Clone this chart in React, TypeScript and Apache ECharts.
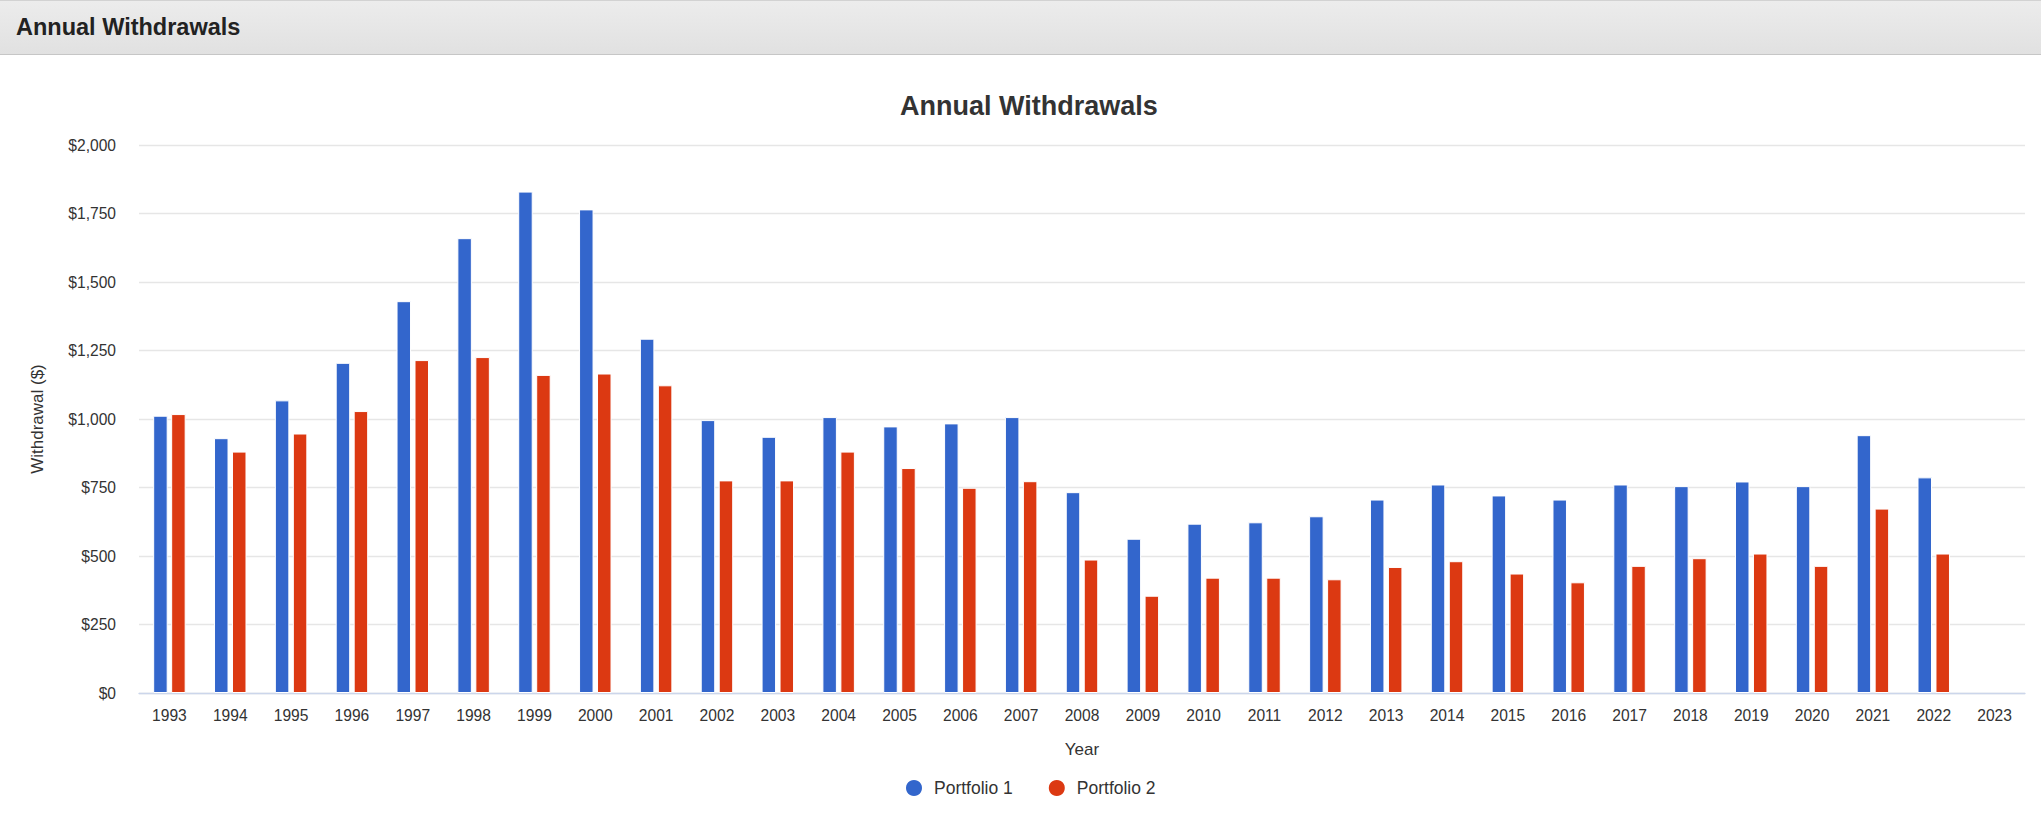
import React, { useEffect, useRef } from "react";
import * as echarts from "echarts";

const years = [
  "1993", "1994", "1995", "1996", "1997", "1998", "1999", "2000", "2001", "2002",
  "2003", "2004", "2005", "2006", "2007", "2008", "2009", "2010", "2011", "2012",
  "2013", "2014", "2015", "2016", "2017", "2018", "2019", "2020", "2021", "2022", "2023",
];

const portfolio1 = [
  1012, 930, 1068, 1205, 1430, 1660, 1830, 1765, 1293, 996,
  935, 1007, 973, 984, 1007, 733, 563, 618, 623, 645,
  706, 761, 721, 706, 761, 755, 772, 755, 941, 787, null,
];

const portfolio2 = [
  1018, 881, 947, 1029, 1215, 1226, 1161, 1166, 1123, 776,
  776, 881, 821, 749, 773, 487, 355, 421, 421, 415,
  460, 481, 436, 404, 464, 492, 509, 464, 673, 509, null,
];

const FONT = "'Liberation Sans', Arial, sans-serif";

const App: React.FC = () => {
  const chartRef = useRef<HTMLDivElement | null>(null);

  useEffect(() => {
    if (!chartRef.current) return;
    const chart = echarts.init(chartRef.current, undefined, { renderer: "svg" });

    const option = {
      animation: false,
      textStyle: { fontFamily: FONT },
      title: {
        text: "Annual Withdrawals",
        left: 900,
        top: 92,
        padding: 0,
        textStyle: {
          fontFamily: FONT,
          fontSize: 27,
          fontWeight: "bold",
          color: "#333333",
        },
      },
      legend: {
        data: ["Portfolio 1", "Portfolio 2"],
        left: 904,
        top: 778,
        padding: 0,
        icon: "circle",
        itemWidth: 18,
        itemHeight: 18,
        itemGap: 34,
        textStyle: {
          fontFamily: FONT,
          fontSize: 17.5,
          color: "#333333",
          padding: [0, 0, 0, 6],
        },
      },
      grid: {
        left: 139,
        right: 16,
        top: 145,
        bottom: 133,
        containLabel: false,
      },
      xAxis: {
        type: "category",
        data: years,
        name: "Year",
        nameLocation: "middle",
        nameGap: 48,
        nameTextStyle: { fontFamily: FONT, fontSize: 17, color: "#333333" },
        axisLine: { lineStyle: { color: "#ccd6eb", width: 1.3 } },
        axisTick: { show: false },
        axisLabel: {
          interval: 0,
          margin: 14,
          fontFamily: FONT,
          fontSize: 15.6,
          color: "#333333",
        },
      },
      yAxis: {
        type: "value",
        min: 0,
        max: 2000,
        interval: 250,
        name: "Withdrawal ($)",
        nameLocation: "middle",
        nameRotate: 90,
        nameGap: 93,
        nameTextStyle: { fontFamily: FONT, fontSize: 17, color: "#333333" },
        axisLine: { show: false },
        axisTick: { show: false },
        splitLine: { lineStyle: { color: "#e6e6e6", width: 1.3 } },
        axisLabel: {
          margin: 23,
          fontFamily: FONT,
          fontSize: 15.6,
          color: "#333333",
          formatter: (v: number) => "$" + v.toLocaleString("en-US"),
        },
      },
      series: [
        {
          name: "Portfolio 1",
          type: "bar",
          data: portfolio1,
          barWidth: 14.5,
          barGap: "24%",
          itemStyle: { color: "#3366cc", borderColor: "#ffffff", borderWidth: 1 },
        },
        {
          name: "Portfolio 2",
          type: "bar",
          data: portfolio2,
          barWidth: 14.5,
          barGap: "24%",
          itemStyle: { color: "#dc3912", borderColor: "#ffffff", borderWidth: 1 },
        },
      ],
    };

    chart.setOption(option);

    return () => {
      chart.dispose();
    };
  }, []);

  return (
    <div
      style={{
        position: "absolute",
        left: 0,
        top: 0,
        width: 2041,
        height: 826,
        overflow: "hidden",
        background: "#ffffff",
      }}
    >
      <div
        ref={chartRef}
        style={{ position: "absolute", left: 0, top: 0, width: 2041, height: 826 }}
      />
      <div
        style={{
          position: "absolute",
          left: 0,
          top: 0,
          width: 2041,
          height: 53,
          boxSizing: "content-box",
          borderTop: "1px solid #d2d2d2",
          borderBottom: "1px solid #c6c6c6",
          background: "linear-gradient(#ececec, #e1e1e1)",
          display: "flex",
          alignItems: "center",
          paddingLeft: 16,
          fontFamily: FONT,
          fontWeight: "bold",
          fontSize: 23.5,
          color: "#222222",
          zIndex: 1,
        }}
      >
        Annual Withdrawals
      </div>
    </div>
  );
};

export default App;
